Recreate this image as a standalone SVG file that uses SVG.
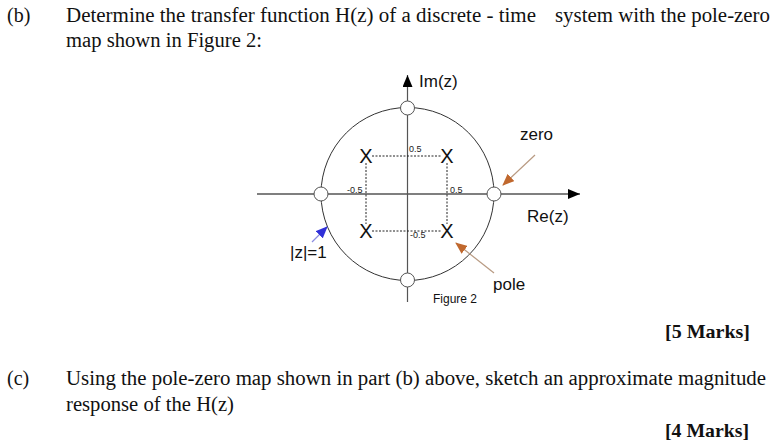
<svg xmlns="http://www.w3.org/2000/svg" width="779" height="447" viewBox="0 0 779 447">
<style>
.q{font-family:"Liberation Serif","Times New Roman",serif;font-size:20px;fill:#111}
.m{font-family:"Liberation Serif","Times New Roman",serif;font-size:19px;font-weight:bold;fill:#111}
.s{font-family:"Liberation Sans",Arial,sans-serif;fill:#111}
.tick{font-family:"Liberation Sans",Arial,sans-serif;font-size:9px;fill:#222}
.dot{stroke:#222;stroke-width:1;stroke-dasharray:2,1.5;fill:none}
.zc{fill:#fff;stroke:#555;stroke-width:1}
</style>
<defs>
<marker id="ah" markerWidth="12" markerHeight="10" refX="12" refY="5" orient="auto" markerUnits="userSpaceOnUse"><path d="M0,0 L12,5 L0,10 Z" fill="#000"/></marker>
<marker id="ob" markerWidth="12" markerHeight="10" refX="11" refY="5" orient="auto" markerUnits="userSpaceOnUse"><path d="M0,0 L12,5 L0,10 Z" fill="#c0682e"/></marker>
<marker id="bb" markerWidth="12" markerHeight="10" refX="11" refY="5" orient="auto" markerUnits="userSpaceOnUse"><path d="M0,0 L12,5 L0,10 Z" fill="#3030d8"/></marker>
</defs>

<g id="question-text">
<text class="q" x="7" y="22">(b)</text>
<text class="q" x="66" y="22" textLength="470" lengthAdjust="spacingAndGlyphs">Determine the transfer function H(z) of a discrete - time</text>
<text class="q" x="555" y="22" textLength="215" lengthAdjust="spacingAndGlyphs">system with the pole-zero</text>
<text class="q" x="66" y="47" textLength="196" lengthAdjust="spacingAndGlyphs">map shown in Figure 2:</text>
<text class="m" x="665" y="338" textLength="85" lengthAdjust="spacingAndGlyphs">[5 Marks]</text>
<text class="q" x="7" y="385">(c)</text>
<text class="q" x="66" y="385" textLength="700" lengthAdjust="spacingAndGlyphs">Using the pole-zero map shown in part (b) above, sketch an approximate magnitude</text>
<text class="q" x="66" y="411" textLength="168" lengthAdjust="spacingAndGlyphs">response of the H(z)</text>
<text class="m" x="665" y="437" textLength="84" lengthAdjust="spacingAndGlyphs">[4 Marks]</text>
</g>

<g id="axes">
<line x1="257" y1="194" x2="580" y2="194" stroke="#000" stroke-width="1.2" marker-end="url(#ah)"/>
<line x1="407.5" y1="302" x2="407.5" y2="75" stroke="#555" stroke-width="1.2" marker-end="url(#ah)"/>
<text class="s" x="419" y="87" font-size="17">Im(z)</text>
<text class="s" x="527" y="222" font-size="17">Re(z)</text>
</g>

<g id="unit-circle">
<circle cx="407.5" cy="194" r="86.5" fill="none" stroke="#333" stroke-width="1"/>
</g>

<g id="grid">
<line class="dot" x1="372" y1="156" x2="441" y2="156"/>
<line class="dot" x1="372" y1="231" x2="441" y2="231"/>
<line class="dot" x1="366" y1="163" x2="366" y2="224"/>
<line class="dot" x1="447" y1="163" x2="447" y2="224"/>
<text class="tick" x="409" y="152">0.5</text>
<text class="tick" x="347" y="193">-0.5</text>
<text class="tick" x="450" y="193">0.5</text>
<text class="tick" x="410" y="238">-0.5</text>
</g>

<g id="zeros">
<circle class="zc" cx="407.5" cy="108" r="7"/>
<circle class="zc" cx="407.5" cy="280" r="7"/>
<circle class="zc" cx="321" cy="194" r="7"/>
<circle class="zc" cx="494" cy="194" r="7"/>
</g>

<g id="poles" class="s" font-size="20" text-anchor="middle">
<text x="366" y="163">X</text>
<text x="447" y="163">X</text>
<text x="366" y="238">X</text>
<text x="447" y="238">X</text>
</g>

<g id="connectors">
<line x1="535" y1="155" x2="503" y2="185" stroke="#b89a82" stroke-width="1.2" marker-end="url(#ob)"/>
<line x1="494" y1="273" x2="456" y2="243" stroke="#b89a82" stroke-width="1.2" marker-end="url(#ob)"/>
<line x1="312" y1="242" x2="327" y2="227" stroke="#8c8ce0" stroke-width="1.2" marker-end="url(#bb)"/>
</g>

<g id="labels" class="s">
<text x="520" y="140" font-size="17">zero</text>
<text x="290" y="258" font-size="17">|z|=1</text>
<text x="493" y="290" font-size="17">pole</text>
<text x="433" y="303" font-size="12">Figure 2</text>
</g>
</svg>
